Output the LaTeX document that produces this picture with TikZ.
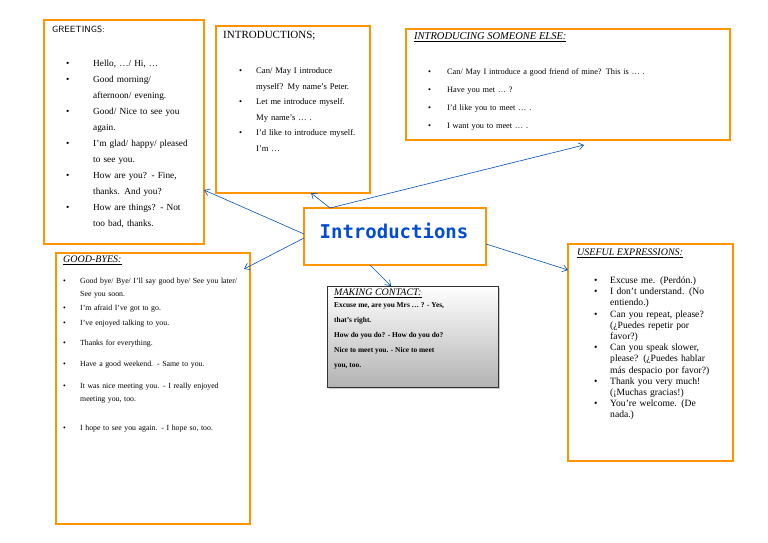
\documentclass[tikz,border=0pt]{standalone}
\usepackage{fontspec}
\setmainfont{Liberation Serif}
\newfontfamily\titlefont{DejaVu Sans Mono}
\usetikzlibrary{arrows.meta,shadows}
\newcommand{\bitem}[2][12pt]{\par\hangindent=#1\hangafter=1\noindent\makebox[#1][l]{\textbullet}#2\par}
\begin{document}
\begin{tikzpicture}[x=1pt,y=-1pt,
 box/.style={draw=orange!85!yellow,line width=1.3pt,fill=white},
 txt/.style={anchor=north west,align=left,inner sep=0pt},
 conn/.style={draw=blue!55!cyan!70!black,line width=0.6pt,-{Straight Barb[length=5pt,width=7pt]}}]
\useasboundingbox (0,0) rectangle (768,543);
% boxes
\draw[box] (44,20) rectangle (204,244);
\node (grbox) at (124,132) [minimum width=160pt,minimum height=224pt] {};
\draw[box] (216,26) rectangle (370,193);
\node (inbox) at (293,110) [minimum width=154pt,minimum height=167pt] {};
\draw[box] (406,29) rectangle (730,140);
\node (isbox) at (568,85) [minimum width=324pt,minimum height=111pt] {};
\draw[box] (304,208) rectangle (486,265);
\node (ctr) at (395,237) [minimum width=182pt,minimum height=57pt] {};
\draw[box] (56,253) rectangle (250,524);
\node (gbbox) at (153,389) [minimum width=194pt,minimum height=271pt] {};
\draw[box] (568,244) rectangle (733,461);
\node (usbox) at (650,352) [minimum width=165pt,minimum height=217pt] {};
\shade[top color=white,bottom color=gray!60,drop shadow={opacity=0.4}] (327,286) rectangle (498,387);
\draw[line width=0.9pt,black!80] (327,286) rectangle (498,387);
\node (mcbox) at (412,336) [minimum width=171pt,minimum height=101pt] {};
% texts
\node[txt,font=\fontsize{9}{10}\selectfont\sffamily] (t1) at (52,26) {GREETINGS:};
\node[txt,text width=122pt,font=\fontsize{9.3}{16}\selectfont,text ragged] (l1) at (66,50) {\raggedright
\bitem[27pt]{Hello, …/ Hi, …}
\bitem[27pt]{Good morning/ afternoon/ evening.}
\bitem[27pt]{Good/ Nice to see you again.}
\bitem[27pt]{I'm glad/ happy/ pleased to see you.}
\bitem[27pt]{How are you? - Fine, thanks. And you?}
\bitem[27pt]{How are things? - Not too bad, thanks.}};
\node[txt,font=\fontsize{11}{12}\selectfont] (t2) at (223,31) {INTRODUCTIONS;};
\node[txt,text width=120pt,font=\fontsize{8.6}{15.5}\selectfont,text ragged] (l2) at (239,58) {\raggedright
\bitem[17pt]{Can/ May I introduce myself? My name's Peter.}
\bitem[17pt]{Let me introduce myself. My name's … .}
\bitem[17pt]{I'd like to introduce myself. I'm …}};
\node[txt,font=\fontsize{10.5}{11}\selectfont\itshape] (t3) at (414,32) {\underline{INTRODUCING SOMEONE ELSE:}};
\node[txt,text width=295pt,font=\fontsize{8.3}{18}\selectfont] (l3) at (428,56) {%
\bitem[19pt]{Can/ May I introduce a good friend of mine? This is … .}
\bitem[19pt]{Have you met … ?}
\bitem[19pt]{I'd like you to meet … .}
\bitem[19pt]{I want you to meet … .}};
\node[font=\fontsize{19}{20}\selectfont\titlefont\bfseries,text=blue!65!cyan!85!black] (tc) at (394,231) {Introductions};
\node[txt,font=\fontsize{10}{11}\selectfont\itshape] (t4) at (63,256) {\underline{GOOD-BYES:}};
\node[txt,text width=176pt,font=\fontsize{7.8}{12.5}\selectfont,text ragged] (l4) at (63,271) {\raggedright
\bitem[17pt]{Good bye/ Bye/ I'll say good bye/ See you later/ See you soon.}\vspace{2pt}
\bitem[17pt]{I'm afraid I've got to go.}\vspace{2pt}
\bitem[17pt]{I've enjoyed talking to you.}\vspace{8pt}
\bitem[17pt]{Thanks for everything.}\vspace{8pt}
\bitem[17pt]{Have a good weekend. - Same to you.}\vspace{10pt}
\bitem[17pt]{It was nice meeting you. - I really enjoyed meeting you, too.}\vspace{17pt}
\bitem[17pt]{I hope to see you again. - I hope so, too.}};
\node[txt,font=\fontsize{10}{11}\selectfont\itshape] (t5) at (334,289) {\underline{MAKING CONTACT:}};
\node[txt,font=\fontsize{7.4}{15}\bfseries] (l5) at (334,302) {Excuse me, are you Mrs … ? - Yes,\\ that's right.\\ How do you do? - How do you do?\\ Nice to meet you. - Nice to meet\\ you, too.};
\node[txt,font=\fontsize{10}{11}\selectfont\itshape] (t6) at (577,249) {\underline{USEFUL EXPRESSIONS:}};
\node[txt,text width=124pt,font=\fontsize{9.6}{11.2}\selectfont,text ragged] (l6) at (594,272) {\raggedright
\bitem[16pt]{Excuse me. (Perdón.)}
\bitem[16pt]{I don't understand. (No entiendo.)}
\bitem[16pt]{Can you repeat, please? (¿Puedes repetir por favor?)}
\bitem[16pt]{Can you speak slower, please? (¿Puedes hablar más despacio por favor?)}
\bitem[16pt]{Thank you very much! (¡Muchas gracias!)}
\bitem[16pt]{You're welcome. (De nada.)}};
% connectors
\coordinate (a1) at (304,234); \coordinate (e1) at (204,190);
\coordinate (a2) at (330,208); \coordinate (e2) at (311,193);
\coordinate (e3) at (584,145);
\coordinate (a4) at (304,238); \coordinate (e4) at (244,269);
\coordinate (a5) at (370,265); \coordinate (e5) at (391,286);
\coordinate (a6) at (486,244); \coordinate (e6) at (568,270);
\draw[conn] (a1) -- (e1);
\draw[conn] (a2) -- (e2);
\draw[conn] (a2) -- (e3);
\draw[conn] (a4) -- (e4);
\draw[conn] (a5) -- (e5);
\draw[conn] (a6) -- (e6);
\end{tikzpicture}
\end{document}
